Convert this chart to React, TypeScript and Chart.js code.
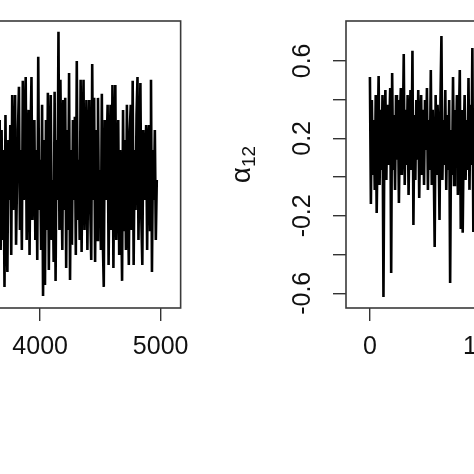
import React, { useEffect, useRef } from "react";
import { Chart, registerables } from "chart.js";

Chart.register(...registerables);

const FONT = "'Liberation Sans', Arial, Helvetica, sans-serif";

// MCMC iteration index of the first plotted draw and thinning step
const ITER_STEP = 8;
const LEFT_START = 3664;
const RIGHT_START = 0;

// Left panel trace (visible part: iterations ~3660-4970)
const leftValues = [
  0.295, -0.376, 0.243, -0.325, 0.14, -0.567, 0.321, -0.273, -0.49, 0.192,
  -0.118, 0.269, -0.402, 0.424, -0.17, 0.089, 0.424, -0.35, -0.015, 0.243,
  0.466, -0.273, 0.14, -0.376, 0.497, -0.118, 0.192, 0.517, -0.325, 0.063,
  0.347, -0.402, 0.218, 0.517, -0.221, 0.011, 0.295, -0.325, 0.14, -0.428,
  0.621, -0.17, 0.089, -0.376, 0.373, -0.614, 0.192, -0.557, 0.295, -0.273,
  0.435, -0.48, 0.14, 0.424, -0.325, -0.015, -0.438, 0.44, -0.536, 0.192,
  -0.118, 0.75, -0.273, 0.502, 0.037, -0.376, 0.398, -0.17, 0.409, -0.469,
  0.243, -0.273, 0.538, -0.531, 0.14, -0.35, 0.295, -0.118, 0.311, -0.402,
  0.6, -0.221, 0.089, -0.325, 0.502, -0.387, 0.192, 0.502, -0.273, 0.011,
  0.398, -0.376, 0.14, 0.398, -0.17, -0.428, 0.584, -0.118, 0.409, -0.438,
  0.243, -0.325, 0.409, -0.221, 0.037, -0.376, 0.43, -0.325, -0.567, 0.295,
  -0.118, 0.14, 0.373, -0.454, 0.089, 0.373, -0.273, 0.476, -0.469, 0.192,
  0.476, -0.325, -0.015, 0.295, -0.402, 0.14, -0.118, -0.536, 0.347, -0.273,
  0.192, -0.376, 0.373, -0.118, -0.454, 0.243, 0.373, -0.273, 0.497, -0.454,
  0.14, -0.17, 0.321, 0.517, -0.325, 0.089, 0.486, -0.221, -0.454, 0.243,
  -0.118, 0.089, 0.269, -0.376, 0.192, 0.269, -0.273, 0.502, -0.49, 0.14,
  -0.118, 0.243, -0.325, -0.015,
];

// Right panel trace of alpha_12 (visible part: iterations 0-900)
const rightValues = [
  0.517, -0.139, 0.398, 0.011, 0.295, -0.066, 0.424, -0.185, 0.192, 0.522,
  -0.041, 0.347, 0.037, 0.424, -0.619, 0.243, 0.45, -0.015, 0.373, 0.063,
  0.269, 0.46, -0.495, 0.538, 0.037, 0.321, -0.066, 0.424, 0.089, 0.398,
  -0.134, 0.295, 0.46, 0.011, 0.192, 0.636, -0.041, 0.347, 0.063, 0.424,
  -0.092, 0.269, 0.45, 0.037, 0.652, -0.247, 0.321, -0.015, 0.398, 0.089,
  0.45, -0.108, 0.243, 0.424, 0.011, 0.347, -0.041, 0.398, 0.14, 0.46,
  -0.066, 0.295, 0.037, 0.553, -0.041, 0.347, 0.089, -0.361, 0.424, 0.011,
  0.373, 0.192, -0.221, 0.398, 0.729, -0.015, 0.295, 0.063, 0.45, -0.066,
  0.321, 0.037, 0.398, -0.547, 0.243, 0.011, 0.517, -0.041, 0.347, 0.089,
  0.424, -0.092, 0.269, 0.553, -0.268, 0.347, -0.288, 0.192, 0.424, -0.015,
  0.295, 0.037, 0.512, -0.066, 0.373, 0.063, 0.667, -0.283, 0.321, 0.011,
  0.398, -0.041, 0.243,
];

const xTicks = [0, 1000, 2000, 3000, 4000, 5000];
const yTicks = [-0.6, -0.4, -0.2, 0, 0.2, 0.4, 0.6];
const yTickLabels = [-0.6, -0.2, 0.2, 0.6];
const yTitle = "α";
const yTitleSub = "12";

const X_MIN = -198;
const X_MAX = 5166;
const Y_MIN = -0.676;
const Y_MAX = 0.806;

const AXIS_COLOR = "#333";

const boxPlugin = {
  id: "rbox",
  afterDraw(chart: any) {
    const { ctx, chartArea: a } = chart;
    ctx.save();
    ctx.strokeStyle = "#3a3a3a";
    ctx.lineWidth = 1.6;
    ctx.strokeRect(a.left, a.top, a.right - a.left, a.bottom - a.top);
    ctx.restore();
  },
};

const yLabelPlugin = {
  id: "rylabels",
  afterDraw(chart: any) {
    const ys = chart.scales.y;
    const a = chart.chartArea;
    const ctx = chart.ctx;
    ctx.save();
    ctx.fillStyle = "#111";
    ctx.font = `25px ${FONT}`;
    ctx.textAlign = "center";
    ctx.textBaseline = "middle";
    const lx = a.left - 43;
    yTickLabels.forEach((v) => {
      const py = ys.getPixelForValue(v);
      ctx.save();
      ctx.translate(lx, py);
      ctx.rotate(-Math.PI / 2);
      ctx.fillText(v.toFixed(1), 0, 0);
      ctx.restore();
    });
    // axis title alpha_12
    const cy = (a.top + a.bottom) / 2;
    const tx = a.left - 96;
    ctx.textAlign = "left";
    ctx.textBaseline = "alphabetic";
    ctx.font = `28px ${FONT}`;
    const wa = ctx.measureText(yTitle).width;
    ctx.font = `19px ${FONT}`;
    const ws = ctx.measureText(yTitleSub).width;
    const total = wa + ws;
    ctx.translate(tx, cy);
    ctx.rotate(-Math.PI / 2);
    ctx.font = `28px ${FONT}`;
    ctx.fillText(yTitle, -total / 2, 0);
    ctx.font = `19px ${FONT}`;
    ctx.fillText(yTitleSub, -total / 2 + wa, 5);
    ctx.restore();
  },
};

function xScaleOptions() {
  return {
    type: "linear" as const,
    position: "bottom" as const,
    min: X_MIN,
    max: X_MAX,
    afterBuildTicks: (s: any) => {
      s.ticks = xTicks.map((v) => ({ value: v }));
    },
    afterFit: (s: any) => {
      s.height = 166;
    },
    grid: {
      drawOnChartArea: false,
      drawTicks: true,
      tickLength: 13,
      color: AXIS_COLOR,
      lineWidth: 1.4,
    },
    border: { display: false },
    ticks: {
      font: { family: FONT, size: 25 },
      color: "#111",
      padding: 11,
      maxRotation: 0,
      minRotation: 0,
      autoSkip: false,
      callback: (v: any) => String(v),
    },
  };
}

function makeChart(canvas: HTMLCanvasElement, start: number, values: number[], right: boolean) {
  const points = values.map((v, i) => ({ x: start + i * ITER_STEP, y: v }));
  return new Chart(canvas, {
    type: "line",
    data: {
      datasets: [
        {
          data: points,
          borderColor: "#000",
          borderWidth: 2.6,
          pointRadius: 0,
          tension: 0,
          fill: false,
        },
      ],
    },
    options: {
      animation: false,
      responsive: false,
      devicePixelRatio: 1,
      events: [],
      layout: {
        padding: right
          ? { left: 0, right: 66, top: 21, bottom: 0 }
          : { left: 54.4, right: 18, top: 21, bottom: 0 },
      },
      plugins: { legend: { display: false }, tooltip: { enabled: false } },
      scales: {
        x: xScaleOptions() as any,
        y: right
          ? ({
              type: "linear",
              position: "left",
              min: Y_MIN,
              max: Y_MAX,
              afterBuildTicks: (s: any) => {
                s.ticks = yTicks.map((v) => ({ value: v }));
              },
              afterFit: (s: any) => {
                s.width = 146;
              },
              grid: {
                drawOnChartArea: false,
                drawTicks: true,
                tickLength: 13,
                color: AXIS_COLOR,
                lineWidth: 1.4,
              },
              border: { display: false },
              ticks: { display: false },
            } as any)
          : ({ type: "linear", display: false, min: Y_MIN, max: Y_MAX } as any),
      },
    },
    plugins: right ? [boxPlugin, yLabelPlugin] : [boxPlugin],
  });
}

export default function App() {
  const leftRef = useRef<HTMLCanvasElement>(null);
  const rightRef = useRef<HTMLCanvasElement>(null);
  useEffect(() => {
    const c1 = makeChart(leftRef.current!, LEFT_START, leftValues, false);
    const c2 = makeChart(rightRef.current!, RIGHT_START, rightValues, true);
    return () => {
      c1.destroy();
      c2.destroy();
    };
  }, []);
  return (
    <div
      style={{
        position: "fixed",
        left: 0,
        top: 0,
        width: 474,
        height: 474,
        overflow: "hidden",
        background: "#fff",
      }}
    >
      <canvas
        ref={leftRef}
        width={720}
        height={474}
        style={{ position: "absolute", left: -520, top: 0, width: 720, height: 474, display: "block" }}
      />
      <canvas
        ref={rightRef}
        width={860}
        height={474}
        style={{ position: "absolute", left: 200, top: 0, width: 860, height: 474, display: "block" }}
      />
    </div>
  );
}
